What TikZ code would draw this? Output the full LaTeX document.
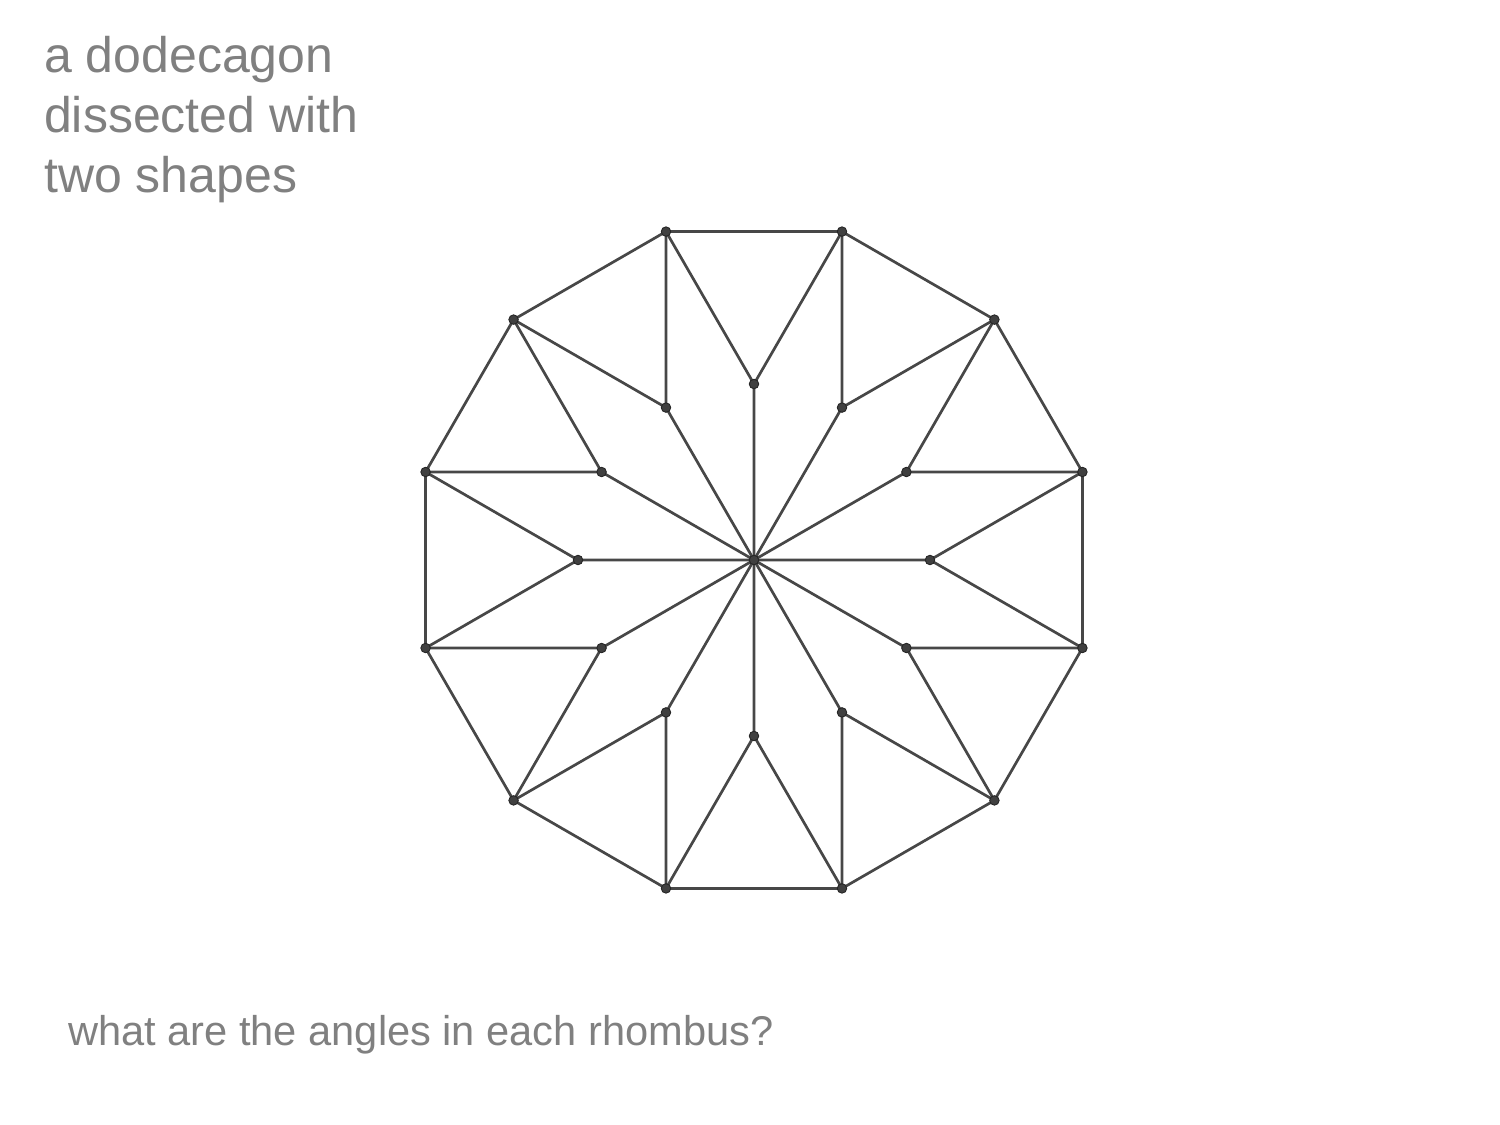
\documentclass[tikz,border=0pt]{standalone}
\usepackage{fontspec}
\setmainfont{Liberation Sans}
\usepackage{tikz}
\definecolor{edgegray}{HTML}{474747}
\definecolor{dotgray}{HTML}{404040}
\definecolor{textgray}{HTML}{808080}
\tikzset{edge/.style={draw=edgegray,line width=2.7pt},
         dot/.style={circle,fill=dotgray,draw=black!85,line width=0.9pt,inner sep=0pt,minimum size=9.5pt},
         caption/.style={text=textgray,inner sep=0pt,anchor=base west}}
\begin{document}
\begin{tikzpicture}[x=1pt,y=1pt]
\useasboundingbox (-754,-565) rectangle (746,560);
% corners of the dodecagon and the inner points
\foreach \i in {0,...,11}
  \coordinate (v\i) at (15+30*\i:340);
\foreach \i in {0,...,11}
  \coordinate (p\i) at (30*\i:176);
\coordinate (c) at (0,0);
% outline
\foreach \i [evaluate=\i as \j using {int(mod(\i+1,12))}] in {0,...,11}
  \draw[edge] (v\i)--(v\j);
% spokes and triangles
\foreach \i [evaluate=\i as \j using {int(mod(\i+11,12))}] in {0,...,11}
  \draw[edge] (c)--(p\i) (v\j)--(p\i)--(v\i);
% points
\foreach \i in {0,...,11}
  \node[dot] (dv\i) at (v\i) {} node[dot] (dp\i) at (p\i) {};
\node[dot] (dc) at (c) {};
% texts
\foreach \y/\t in {0/a dodecagon,1/dissected with,2/two shapes}
  \node[caption,font=\fontsize{50}{60}\selectfont] (title\y) at (-710,487-60*\y) {\t};
\node[caption,font=\fontsize{41.6}{50}\selectfont] (question) at (-686,-485) {what are the angles in each rhombus?};
\end{tikzpicture}
\end{document}
